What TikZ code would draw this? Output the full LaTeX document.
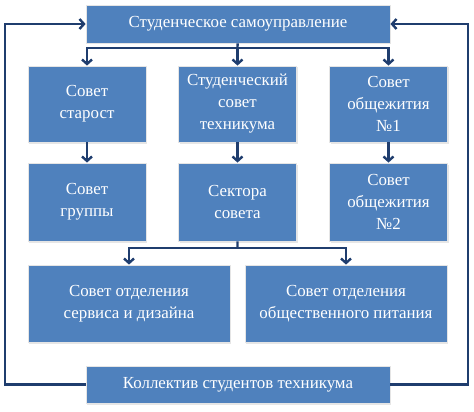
\documentclass[tikz,border=0pt]{standalone}
\usepackage{fontspec}
\setmainfont{Liberation Serif}
\usetikzlibrary{arrows.meta,shadows}
\definecolor{boxblue}{HTML}{4F81BD}
\definecolor{linenavy}{HTML}{1F3D6E}
\tikzset{
  box/.style={draw=white!90!black, line width=0.8pt, fill=boxblue, text=white,
    align=center, inner sep=0pt, font=\rmfamily\fontsize{16.9}{22}\selectfont,
    drop shadow={opacity=0.2, shadow xshift=1pt, shadow yshift=-1.5pt}},
  link/.style={draw=linenavy, line width=2.4pt}
}
\begin{document}
\begin{tikzpicture}[x=1pt,y=-1pt,>={Straight Barb[length=4.5pt,width=10pt]}]
\useasboundingbox (0,0) rectangle (474,412);

\node[box,minimum width=304pt,minimum height=38pt] (samoupr) at (238,24) {Студенческое самоуправление};

\node[box,minimum width=118pt,minimum height=76pt] (starost) at (87,104) {Совет\\старост};
\node[box,minimum width=118pt,minimum height=76pt] (studsovet) at (237.5,104) {Студенческий\\совет\\техникума};
\node[box,minimum width=118pt,minimum height=76pt] (obsch1) at (388.5,104) {Совет\\общежития\\№1};

\node[box,minimum width=118pt,minimum height=78pt] (gruppa) at (87,202) {Совет\\группы};
\node[box,minimum width=118pt,minimum height=78pt] (sektor) at (237.5,202) {Сектора\\совета};
\node[box,minimum width=118pt,minimum height=78pt] (obsch2) at (388.5,202) {Совет\\общежития\\№2};

\node[box,minimum width=202pt,minimum height=77pt] (servis) at (129,303.5) {Совет отделения\\сервиса и дизайна};
\node[box,minimum width=202pt,minimum height=77pt] (pitanie) at (346,303.5) {Совет отделения\\общественного питания};

\node[box,minimum width=304pt,minimum height=37pt] (kollektiv) at (238,384.5) {Коллектив студентов техникума};

\coordinate (bus1) at (237.5,48);
\coordinate (bus2) at (237.5,248);
\coordinate (lbot) at (5,384.5);
\coordinate (ltop) at (5,24);
\coordinate (rbot) at (468,384.5);
\coordinate (rtop) at (468,24);

\path [link]
    (samoupr) -- (bus1)
    (sektor) -- (bus2)
;
\draw [link,->] (bus1) -| (starost);
\draw [link,->] (bus1) -| (obsch1);
\draw [link,->] (bus1) -- (studsovet);
\draw [link,->] (starost) -- (gruppa);
\draw [link,->] (studsovet) -- (sektor);
\draw [link,->] (obsch1) -- (obsch2);
\draw [link,->] (bus2) -| (servis);
\draw [link,->] (bus2) -| (pitanie);
\draw [link,->] (kollektiv.west) -- (lbot) -- (ltop) -- (samoupr.west);
\draw [link,->] (kollektiv.east) -- (rbot) -- (rtop) -- (samoupr.east);

\end{tikzpicture}
\end{document}
